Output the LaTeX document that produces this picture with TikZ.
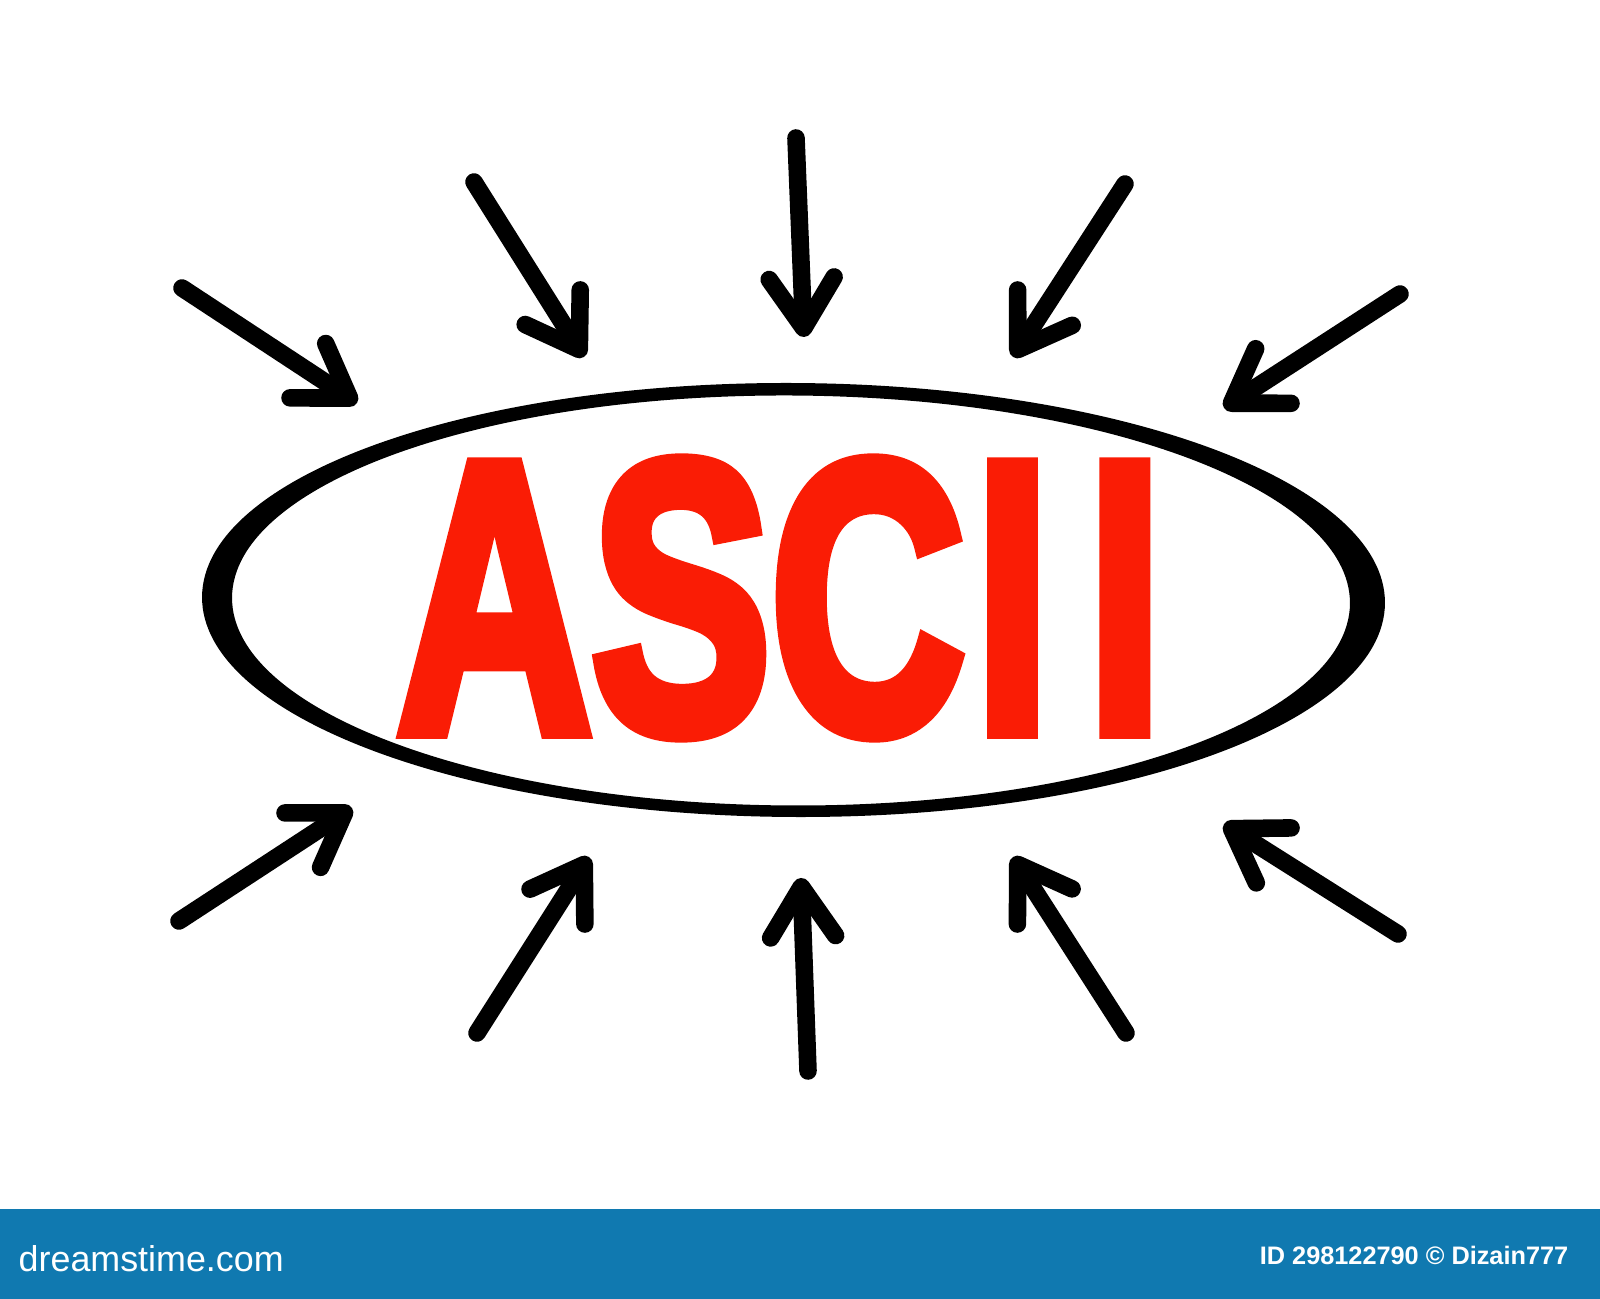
\documentclass[tikz,border=0pt]{standalone}
\usepackage{fontspec}
\setmainfont{Liberation Sans}
\newfontfamily\asciifont[FakeBold=4.5]{Liberation Sans Bold}
\usetikzlibrary{arrows.meta}
\definecolor{asciired}{RGB}{250,28,5}
\definecolor{bannerblue}{RGB}{16,121,176}
\tikzset{
  inarrow/.style={-{Straight Barb[length=5mm,width=6.5mm,round]}, line width=5pt, line cap=round},
}
\begin{document}
\begin{tikzpicture}[x=0.1mm, y=-0.1mm]
            \useasboundingbox (0,0) rectangle (1600,1299);
            \fill[bannerblue] (0,1209) rectangle (1600,1299);
            % the ring: thick at both ends, thin at top and bottom
            \fill[even odd rule, rotate around={-0.3:(792,600)}]
              (793.5,600) ellipse [x radius=59.15mm, y radius=21.7mm]
              (791,600.5) ellipse [x radius=55.9mm, y radius=20.5mm];
            \node[text=asciired, inner sep=0pt] (word) at (780,598) {\resizebox{76.5mm}{26.8mm}{\asciifont ASC\kern.04em I\kern.14em I}};
            \coordinate (s1) at (182,288);  \coordinate (e1) at (357,403);
            \coordinate (s2) at (474,182);  \coordinate (e2) at (584,357);
            \coordinate (s3) at (796,138);  \coordinate (e3) at (804,337);
            \coordinate (s4) at (1125,184); \coordinate (e4) at (1013,357);
            \coordinate (s5) at (1400,294); \coordinate (e5) at (1224,408);
            \coordinate (s6) at (179,921);  \coordinate (e6) at (352,808);
            \coordinate (s7) at (477,1033); \coordinate (e7) at (589,857);
            \coordinate (s8) at (808,1071); \coordinate (e8) at (801,878);
            \coordinate (s9) at (1126,1033); \coordinate (e9) at (1013,857);
            \coordinate (s10) at (1398,934); \coordinate (e10) at (1224,824);
            \draw[inarrow] (s1) -- (e1);
            \draw[inarrow] (s2) -- (e2);
            \draw[inarrow] (s3) -- (e3);
            \draw[inarrow] (s4) -- (e4);
            \draw[inarrow] (s5) -- (e5);
            \draw[inarrow] (s6) -- (e6);
            \draw[inarrow] (s7) -- (e7);
            \draw[inarrow] (s8) -- (e8);
            \draw[inarrow] (s9) -- (e9);
            \draw[inarrow] (s10) -- (e10);
            \node[text=white, inner sep=0pt, anchor=base west, font=\fontsize{10.2}{12}\selectfont] (site) at (18,1272) {dreamstime.com};
            \node[text=white, inner sep=0pt, anchor=base east, font=\fontsize{7.2}{9}\selectfont\bfseries] (credit) at (1569,1265) {ID 298122790 © Dizain777};
        \end{tikzpicture}
\end{document}
